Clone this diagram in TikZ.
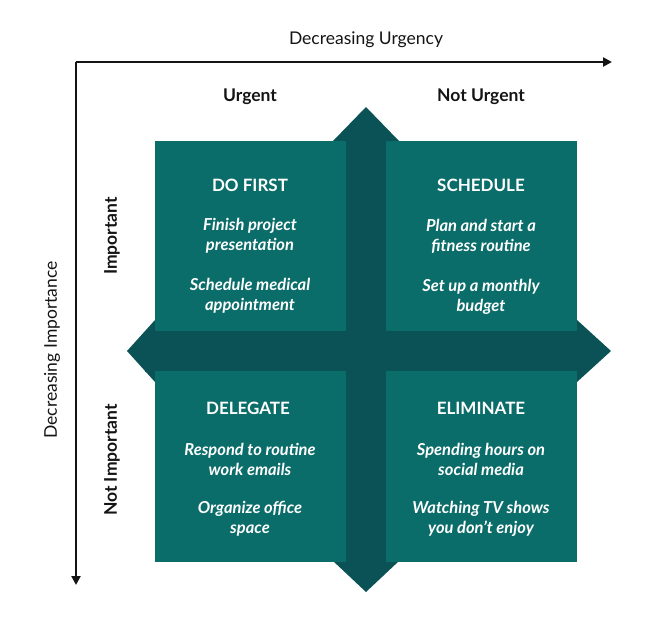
\documentclass[tikz,border=0pt]{standalone}
\usepackage{fontspec}
\setmainfont{Lato}
\usetikzlibrary{arrows.meta}
\definecolor{quad}{HTML}{0B6D6A}
\definecolor{crossc}{HTML}{0A5255}
\definecolor{ink}{HTML}{141414}
\tikzset{
  quadbox/.style={fill=quad, draw=none, minimum width=191pt, minimum height=190pt, inner sep=0pt},
  qtitle/.style={text=white, font=\fontsize{17}{20}\selectfont\bfseries, anchor=center},
  qitem/.style={text=white, font=\fontsize{16.5}{20}\selectfont\bfseries\itshape, align=center, anchor=center},
  axislabel/.style={text=ink, font=\fontsize{17.5}{20}\selectfont},
  headlabel/.style={text=ink, font=\fontsize{17.5}{20}\selectfont\bfseries},
  axisline/.style={draw=ink, line width=2.4pt, -{Triangle[length=9pt,width=9pt]}},
  crossfill/.style={fill=crossc}
}
\begin{document}
\begin{tikzpicture}[x=1pt,y=-1pt]
\useasboundingbox (0,0) rectangle (670,644);
% cross arrows
\fill[crossfill] (345,130) rectangle (386,572);
\fill[crossfill] (145,331) rectangle (587,372);
\fill[crossfill] (366,107) -- (399,141) -- (399,150) -- (333,150) -- (333,141) -- cycle;
\fill[crossfill] (366,592) -- (399,561) -- (399,552) -- (333,552) -- (333,561) -- cycle;
\fill[crossfill] (127,351) -- (155,320) -- (164,320) -- (164,382) -- (155,382) -- cycle;
\fill[crossfill] (611,351) -- (577,320) -- (568,320) -- (568,382) -- (577,382) -- cycle;
% quadrants
\node[quadbox] (q1) at (250,236) {};
\node[quadbox] (q2) at (481.5,236) {};
\node[quadbox] (q3) at (250,466.5) {};
\node[quadbox] (q4) at (481.5,466.5) {};
% quadrant texts
\node[qtitle] (t1) at (250,185) {DO FIRST};
\node[qitem] (a1) at (250,236) {Finish project\\presentation};
\node[qitem] (b1) at (250,296) {Schedule medical\\appointment};
\node[qtitle] (t2) at (481,185) {SCHEDULE};
\node[qitem] (a2) at (481,236) {Plan and start a\\fitness routine};
\node[qitem] (b2) at (481,297) {Set up a monthly\\budget};
\node[qtitle] (t3) at (248,408) {DELEGATE};
\node[qitem] (a3) at (250,459) {Respond to routine\\work emails};
\node[qitem] (b3) at (250,519) {Organize office\\space};
\node[qtitle] (t4) at (481,408) {ELIMINATE};
\node[qitem] (a4) at (481,459) {Spending hours on\\social media};
\node[qitem] (b4) at (481,519) {Watching TV shows\\you don’t enjoy};
% headers
\node[headlabel] (hu) at (250,97) {Urgent};
\node[headlabel] (hn) at (481,97) {Not Urgent};
\node[headlabel, rotate=90] (hi) at (112,236) {Important};
\node[headlabel, rotate=90] (hni) at (112,460) {Not Important};
% axes
\coordinate (origin) at (76,62);
\coordinate (xend) at (612,62);
\coordinate (yend) at (76,585);
\draw[axisline] (origin) -- (xend);
\draw[axisline] (origin) -- (yend);
\node[axislabel] (xl) at (366,40) {Decreasing Urgency};
\node[axislabel, rotate=90] (yl) at (52,350) {Decreasing Importance};
\end{tikzpicture}
\end{document}
